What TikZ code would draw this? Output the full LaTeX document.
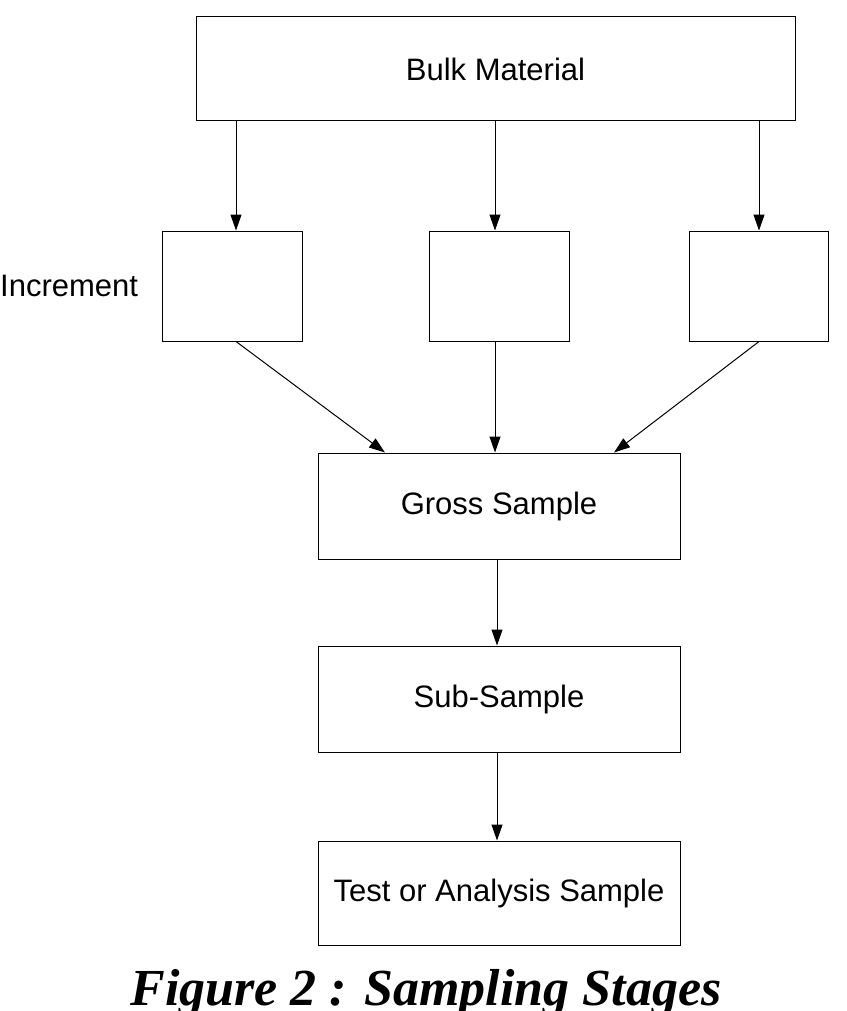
\documentclass[tikz,border=0pt]{standalone}
\usepackage{fontspec}
\setmainfont{Liberation Sans}
\newfontfamily\capfont{Liberation Serif}
\usetikzlibrary{arrows.meta}
\begin{document}
\begin{tikzpicture}[x=1pt,y=-1pt,
  box/.style={draw,line width=1pt,inner sep=0pt,font=\fontsize{31}{36}\selectfont},
  arr/.style={-{Triangle[length=16pt,width=11pt]},line width=1pt}]
\useasboundingbox (0,0) rectangle (846,1011);
\clip (0,0) rectangle (846,1011);
\node[box,minimum width=599pt,minimum height=104pt] (bulk) at (495.5,69) {Bulk Material};
\node[box,minimum width=140pt,minimum height=110pt] (i1) at (232,286) {};
\node[box,minimum width=140pt,minimum height=110pt] (i2) at (499,286) {};
\node[box,minimum width=139pt,minimum height=110pt] (i3) at (758.5,286) {};
\node[font=\fontsize{31}{36}\selectfont,anchor=west,inner sep=0pt] (inc) at (0,286) {Increment};
\node[box,minimum width=362pt,minimum height=106pt] (gross) at (499,506) {Gross Sample};
\node[box,minimum width=362pt,minimum height=106pt] (sub) at (499,699) {Sub-Sample};
\node[box,minimum width=362pt,minimum height=104pt] (test) at (499,893) {Test or Analysis Sample};
\node[font=\capfont\bfseries\itshape\fontsize{52}{60}\selectfont] (cap) at (426,993) {Figure 2 : Sampling Stages};
\draw[arr] (bulk.south -| 236,0) -- (i1.north -| 236,0);
\draw[arr] (bulk.south -| 495,0) -- (i2.north -| 495,0);
\draw[arr] (bulk.south -| 759,0) -- (i3.north -| 759,0);
\draw[arr] (i1.south -| 236,0) -- (gross.north -| 385,0);
\draw[arr] (i2.south -| 495,0) -- (gross.north -| 495,0);
\draw[arr] (i3.south -| 759,0) -- (gross.north -| 614,0);
\draw[arr] (gross.south -| 497,0) -- (sub.north -| 497,0);
\draw[arr] (sub.south -| 497,0) -- (test.north -| 497,0);
\end{tikzpicture}
\end{document}
